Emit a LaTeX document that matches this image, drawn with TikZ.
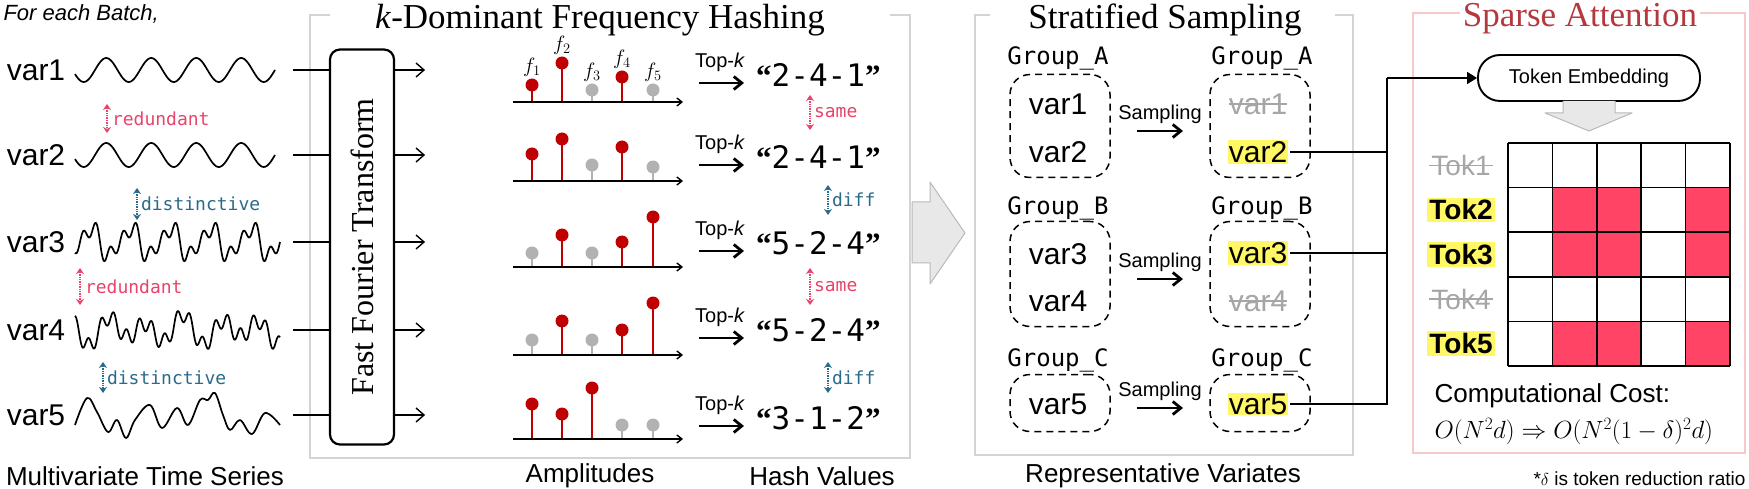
\documentclass[tikz,border=0pt]{standalone}
\usepackage{fontspec}
\setmainfont{Liberation Serif}
\setsansfont{Liberation Sans}
\setmonofont{DejaVu Sans Mono}
\usetikzlibrary{arrows.meta,calc}
\definecolor{redc}{HTML}{C00000}
\definecolor{pinkc}{HTML}{E8436A}
\definecolor{bluec}{HTML}{2A6A8A}
\definecolor{cellred}{HTML}{FF4466}
\definecolor{frameg}{HTML}{D4D4D4}
\definecolor{framep}{HTML}{F6C8C8}
\definecolor{titler}{HTML}{B5383F}
\definecolor{hl}{HTML}{FFF763}
\newcommand{\fs}[1]{\fontsize{#1}{#1}\selectfont}
\newcommand{\mylq}{{\rmfamily\bfseries “}}
\newcommand{\myrq}{{\rmfamily\bfseries ”}}
\begin{document}
\begin{tikzpicture}[x=1pt,y=-1pt,
  lab/.style={font=\sffamily\fs{30}},
  frm/.style={draw=frameg,line width=2.5pt},
  ttl/.style={font=\rmfamily\fs{35},fill=white,inner sep=3pt},
  hash/.style={font=\ttfamily\fs{31}},
  grp/.style={font=\ttfamily\fs{24}},
  rel/.style={font=\ttfamily\fs{18}},
  dbox/.style={draw,line width=1.5pt,rounded corners=20pt,dash pattern=on 7pt off 5pt},
  samp/.style={font=\sffamily\fs{20}},
  bot/.style={font=\sffamily\fs{26}},
  tok/.style={font=\sffamily\bfseries\fs{28},inner sep=2pt},
  dimtxt/.style={text=gray!70},
  darr/.style={densely dotted,line width=1.4pt,{Stealth[length=6pt,width=8pt]}-{Stealth[length=6pt,width=8pt]}},
  arr/.style={line width=1.4pt,-{Straight Barb[length=8pt,width=14pt]}},
  thick arr/.style={line width=2.8pt,-{Straight Barb[length=8pt,width=13pt]}},
  wave/.style={line width=1.7pt,line join=round},
  blk/.style={draw=gray!55,fill=gray!18,line width=1pt,line join=round},
]
\useasboundingbox (0,0) rectangle (1749,489);
% frames
\draw[frm] (990,15) -- (975,15) -- (975,455) -- (1353,455) -- (1353,15) -- (1335,15);
\draw[frm] (330,15) -- (310,15) -- (310,458) -- (910,458) -- (910,15) -- (890,15);
\draw[draw=framep,line width=2.5pt] (1413,13) rectangle (1745,453);
\node[ttl] (t1) at (600,20) {\textit{k}-Dominant Frequency Hashing};
\node[ttl] (t2) at (1165,20) {Stratified Sampling};
\node[ttl,text=titler] (t3) at (1580,19) {Sparse Attention};

\node[font=\sffamily\itshape\fs{22},anchor=west] (batch) at (0,14) {For each Batch,};
% var labels
\foreach \i/\y in {1/70,2/155,3/242,4/330,5/415}{
  \node[lab] (v\i) at (36,\y) {var\i};
  \coordinate (in\i) at (293,\y);
}
% waves
\draw[wave] plot[domain=75:275,samples=160] (\x,{70-12*sin((\x-75)/45*360+200)});
\draw[wave] plot[domain=75:275,samples=160] (\x,{155-12*sin((\x-75)/45*360+200)});
\draw[wave] plot[domain=75:280,samples=300] (\x,{242-13*sin((\x-80)/40*360)-8*sin((\x-80)/40*1080)+4*sin((\x-80)/40*720)});
\draw[wave] plot[domain=75:280,samples=300] (\x,{330-11*sin((\x-60)/38*360)-8*sin((\x-60)/19*1080/2)+5*sin((\x-75)/60*360)});
\draw[wave] plot[smooth,tension=0.6] coordinates {(75,425) (87,398) (97,412) (108,432) (117,420) (126,438) (135,420) (150,405) (162,428) (177,408) (188,425) (200,400) (208,400) (215,393) (223,415) (230,430) (240,420) (252,434) (265,413) (280,425)};
% relation arrows
\draw[darr,pinkc] (107,104) -- (107,133) node[midway,right,rel,text=pinkc,xshift=1pt] {redundant};
\draw[darr,bluec] (137,188) -- (137,220) node[midway,right,rel,text=bluec] {distinctive};
\draw[darr,pinkc] (80,268) -- (80,305) node[midway,right,rel,text=pinkc,xshift=1pt] {redundant};
\draw[darr,bluec] (103,362) -- (103,393) node[midway,right,rel,text=bluec] {distinctive};
% FFT
\node[draw,line width=2.2pt,rounded corners=10pt,minimum width=64pt,minimum height=395pt,fill=white] (fft) at (362,247) {};
\node[rotate=90,font=\rmfamily\fs{32}] (fftt) at (fft.center) {Fast Fourier Transform};
\foreach \i in {1,...,5}{
  \draw[line width=1.6pt] (in\i) -- (in\i -| fft.west);
  \coordinate (out\i) at ($(in\i -| fft.east)+(30,0)$);
  \draw[arr] (in\i -| fft.east) -- (out\i);
}
% spectra
\foreach \ay/\ha/\hb/\hc/\hd/\he/\ca/\cb/\cc/\cd/\ce in {
  102/17/39/12/25/12/redc/redc/gray!60/redc/gray!60,
  181/27/42/16/34/14/redc/redc/gray!60/redc/gray!60,
  267/14/32/14/25/50/gray!60/redc/gray!60/redc/redc,
  355/15/34/15/25/52/gray!60/redc/gray!60/redc/redc,
  439/35/25/51/14/14/redc/redc/redc/gray!60/gray!60}{
  \foreach \sx/\h/\c in {532/\ha/\ca,562/\hb/\cb,592/\hc/\cc,622/\hd/\cd,653/\he/\ce}{
    \draw[\c,line width=2.8pt] (\sx,\ay) -- (\sx,\ay-\h);
    \fill[\c] (\sx,\ay-\h) circle (6.5pt);
  }
  \draw[line width=1.4pt,-{Straight Barb[length=5pt,width=8pt]}] (513,\ay) -- (683,\ay);
}
\foreach \sx/\h/\n in {532/17/1,562/39/2,592/12/3,622/25/4,653/12/5}
  \node[font=\fs{21}] at (\sx,102-\h-18) {$f_{\n}$};
% top-k and hashes
\foreach \i/\y/\hv in {1/75/2-4-1,2/157/2-4-1,3/243/5-2-4,4/330/5-2-4,5/418/3-1-2}{
  \node[samp] at (720,\y-13) {Top-\textit{k}};
  \draw[thick arr] (699,\y+8) -- (744,\y+8);
  \node[hash,anchor=west,inner sep=0pt] (h\i) at (756,\y) {\mylq\hv\myrq};
}
\draw[darr,pinkc] (810,95) -- (810,130) node[midway,right,rel,text=pinkc] {same};
\draw[darr,bluec] (828,185) -- (828,215) node[midway,right,rel,text=bluec] {diff};
\draw[darr,pinkc] (810,268) -- (810,305) node[midway,right,rel,text=pinkc] {same};
\draw[darr,bluec] (828,362) -- (828,393) node[midway,right,rel,text=bluec] {diff};
% big gray arrow
\draw[blk] (912,202) -- (930,202) -- (930,182) -- (965,233) -- (930,284) -- (930,263) -- (912,263) -- cycle;
% stratified
\foreach \g/\gy/\by/\bh in {A/58/126/103,B/208/274/105,C/360/403/57}{
  \node[grp] (gl\g) at (1058,\gy) {Group\_\g};
  \node[dbox,minimum width=100pt,minimum height=\bh pt] (gb\g) at (1060,\by) {};
  \node[grp] (gr\g) at (1262,\gy) {Group\_\g};
  \node[dbox,minimum width=100pt,minimum height=\bh pt] (gc\g) at (1260,\by) {};
  \node[samp] (s\g) at (1160,\by-12) {Sampling};
  \draw[thick arr] (1137,\by+5) -- (1183,\by+5);
}
\node[lab] (a1) at (1058,104) {var1};
\node[lab] (a2) at (1058,152) {var2};
\node[lab] (a3) at (1058,254) {var3};
\node[lab] (a4) at (1058,301) {var4};
\node[lab] (a5) at (1058,404) {var5};
\node[lab,dimtxt] (b1) at (1258,104) {var1};
\node[lab,fill=hl,inner sep=1pt] (b2) at (1258,152) {var2};
\node[lab,fill=hl,inner sep=1pt] (b3) at (1258,253) {var3};
\node[lab,dimtxt] (b4) at (1258,301) {var4};
\node[lab,fill=hl,inner sep=1pt] (b5) at (1258,404) {var5};
\draw[gray!70,line width=1.4pt] ([xshift=4pt]b1.west) -- ([xshift=-4pt]b1.east);
\draw[gray!70,line width=1.4pt] ([xshift=4pt]b4.west) -- ([xshift=-4pt]b4.east);
% token embedding
\node[draw,line width=1.9pt,rounded corners=22pt,minimum width=222pt,minimum height=46pt,font=\sffamily\fs{20}] (emb) at (1589,78) {Token Embedding};
\coordinate (j) at (1387,78);
\draw[line width=1.7pt] ([xshift=2pt]b2.east) -| (1387,152);
\draw[line width=1.7pt] ([xshift=2pt]b3.east) -- (1387,253);
\draw[line width=1.7pt] ([xshift=2pt]b5.east) -| (j);
\draw[line width=1.7pt,-{Triangle[length=10pt,width=12pt]}] (j) -- (emb.west);
\draw[blk] (1563,101) -- (1563,113) -- (1545,113) -- (1589,131) -- (1632,113) -- (1615,113) -- (1615,101);
% grid
\foreach \r/\c in {2/2,2/3,2/5,3/2,3/3,3/5,5/2,5/3,5/5}
  \fill[cellred] ({1508+(\c-1)*44.4},{143+(\r-1)*44.6}) rectangle ++(44.4,44.6);
\foreach \k in {0,...,5}{
  \draw[line width=1.7pt] ({1508+\k*44.4},143) -- ({1508+\k*44.4},366);
  \draw[line width=1.7pt] (1508,{143+\k*44.6}) -- (1730,{143+\k*44.6});
}
\foreach \k in {1,...,5} \coordinate (row\k) at (1461,{143+(\k-0.5)*44.6});
\node[tok,dimtxt,font=\sffamily\fs{28}] (k1) at (row1) {Tok1};
\node[tok,fill=hl] (k2) at (row2) {Tok2};
\node[tok,fill=hl] (k3) at (row3) {Tok3};
\node[tok,dimtxt,font=\sffamily\fs{28}] (k4) at (row4) {Tok4};
\node[tok,fill=hl] (k5) at (row5) {Tok5};
\draw[gray!70,line width=1.4pt] (k1.west) -- (k1.east);
\draw[gray!70,line width=1.4pt] (k4.west) -- (k4.east);
\node[font=\sffamily\fs{26},anchor=west] (cc) at (1431,396) {Computational Cost:};
\node[font=\fs{25},anchor=west] (ff) at (1431,432) {$O(N^2d)\Rightarrow O(N^2(1-\delta)^2d)$};
\node[font=\sffamily\fs{19},anchor=east] (note) at (1749,479) {*$\delta$ is token reduction ratio};
% bottom labels
\node[bot] (bl1) at (145,476) {Multivariate Time Series};
\node[bot] (bl2) at (590,476) {Amplitudes};
\node[bot] (bl3) at (822,476) {Hash Values};
\node[bot] (bl4) at (1163,476) {Representative Variates};
\end{tikzpicture}
\end{document}
